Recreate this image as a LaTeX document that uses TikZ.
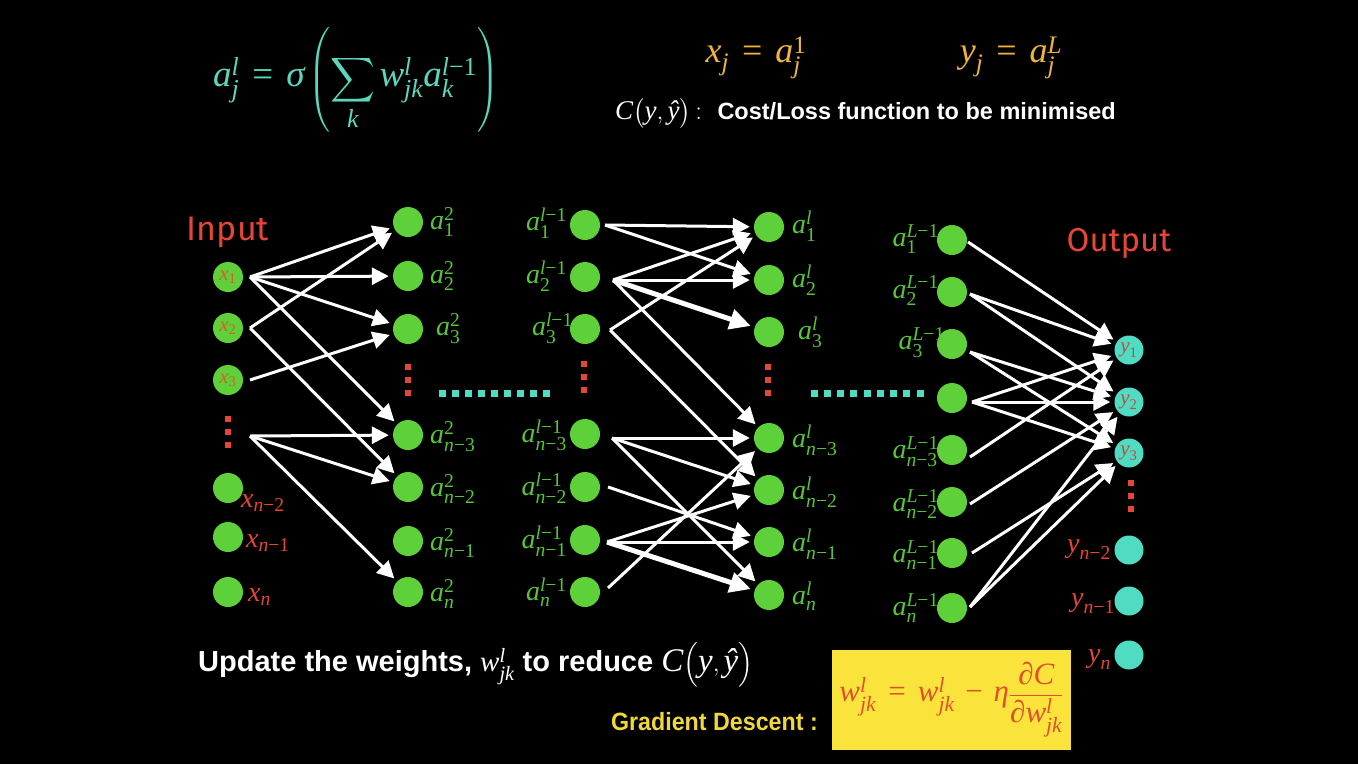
\documentclass[tikz,border=0pt]{standalone}
\usepackage{amsmath}
\usepackage{fontspec}
\newfontfamily\hv{Liberation Sans}
\newfontfamily\hvc{Liberation Sans}[FakeStretch=0.93]
\newfontfamily\hand{Fira Sans}
\newfontfamily\ser{Liberation Serif}
\newcommand\tv[1]{\text{\ser\itshape #1}}
\newcommand\tu[1]{\text{\ser #1}}
\newcommand\teq{\mathrel{\tu{\,=\,}}}
\newcommand\bigsum{\mathop{\vcenter{\hbox{\scalebox{1.25}{$\displaystyle\sum$}}}}\limits}
\usetikzlibrary{arrows.meta}
\definecolor{ngreen}{RGB}{94,208,58}
\definecolor{lgreen}{RGB}{88,196,60}
\definecolor{ncyan}{RGB}{80,220,195}
\definecolor{fcyan}{RGB}{90,215,190}
\definecolor{gold}{RGB}{240,180,60}
\definecolor{nred}{RGB}{230,70,55}
\definecolor{ytext}{RGB}{240,215,60}
\definecolor{ybox}{RGB}{250,228,60}
\definecolor{bred}{RGB}{225,80,45}
\definecolor{inlab}{RGB}{215,95,40}
\definecolor{outlab}{RGB}{185,80,60}
\tikzset{
  neuron/.style={circle, fill=ngreen, minimum size=30pt, inner sep=0pt},
  outn/.style={circle, fill=ncyan, minimum size=29pt, inner sep=0pt},
  lbl/.style={text=lgreen, inner sep=1pt, font=\fontsize{28}{32}\selectfont},
  rlbl/.style={text=nred, inner sep=1pt, font=\fontsize{28}{32}\selectfont},
  edge/.style={draw=white, line width=3pt, -{Triangle[length=17pt,width=17pt]}, shorten >=4pt},
  bigedge/.style={edge, line width=5pt, -{Triangle[length=21pt,width=20pt]}},
  rdot/.style={fill=nred},
  cdot/.style={fill=ncyan}
}
\begin{document}
\begin{tikzpicture}[x=1pt,y=-1pt]
\fill[black] (0,0) rectangle (1358,764);
\useasboundingbox (0,0) rectangle (1358,764);

% ---------- top formulas ----------
\node[text=fcyan, font=\fontsize{37}{44}\selectfont] (fa) at (356,80)
  {$\displaystyle \tv{a}_{\tv{j}}^{\tv{l}}\teq\tv{σ}\left(\bigsum_{\tv{k}} \tv{w}_{\tv{jk}}^{\tv{l}}\tv{a}_{\tv{k}}^{\tv{l}\tu{−1}}\right)$};
\node[text=gold, font=\fontsize{36}{40}\selectfont] (fx) at (756,58) {$\tv{x}_{\tv{j}}\teq\tv{a}_{\tv{j}}^{\tu{1}}$};
\node[text=gold, font=\fontsize{36}{40}\selectfont] (fy) at (1011,58) {$\tv{y}_{\tv{j}}\teq\tv{a}_{\tv{j}}^{\tv{L}}$};
\node[text=white, anchor=west, inner sep=0pt] (cost) at (615,113)
  {\fontsize{27}{30}\selectfont$\tv{C}\bigl(\tv{y},\tv{ŷ}\bigr)$\,:\, {\hv\bfseries\fontsize{23.5}{27}\selectfont Cost/Loss function to be minimised}};

% ---------- headings ----------
\node[text=nred, font=\hand\fontsize{34}{38}\selectfont] (tin) at (228,232) {Input};
\node[text=nred, font=\hand\fontsize{33}{38}\selectfont] (tout) at (1119,243) {Output};

% ---------- input layer ----------
\node[neuron] (x1) at (228,277) {\textcolor{inlab}{\fontsize{21}{24}\selectfont$\tv{x}_{\tu{1}}$}};
\node[neuron] (x2) at (228,328) {\textcolor{inlab}{\fontsize{21}{24}\selectfont$\tv{x}_{\tu{2}}$}};
\node[neuron] (x3) at (228,380) {\textcolor{inlab}{\fontsize{21}{24}\selectfont$\tv{x}_{\tu{3}}$}};
\node[neuron] (xa) at (228,488) {};
\node[neuron] (xb) at (228,537) {};
\node[neuron] (xc) at (228,592) {};
\node[rlbl, anchor=west] (lxa) at (240,503) {$\tv{x}_{\tv{n}\tu{−2}}$};
\node[rlbl, anchor=west] (lxb) at (245,543) {$\tv{x}_{\tv{n}\tu{−1}}$};
\node[rlbl, anchor=west] (lxc) at (247,597) {$\tv{x}_{\tv{n}}$};
\foreach \yy in {419,432,445} \fill[rdot] (225,\yy-3) rectangle ++(6,6);

% ---------- layer 2 ----------
\foreach \i/\yy in {1/222,2/276,3/329,4/435,5/487,6/541,7/592}
  \node[neuron] (h\i) at (408,\yy) {};
\node[lbl, anchor=west] at (429,222) {$\tv{a}_{\tu{1}}^{\tu{2}}$};
\node[lbl, anchor=west] at (429,276) {$\tv{a}_{\tu{2}}^{\tu{2}}$};
\node[lbl, anchor=west] at (435,329) {$\tv{a}_{\tu{3}}^{\tu{2}}$};
\node[lbl, anchor=west] at (429,437) {$\tv{a}_{\tv{n}\tu{−3}}^{\tu{2}}$};
\node[lbl, anchor=west] at (429,489) {$\tv{a}_{\tv{n}\tu{−2}}^{\tu{2}}$};
\node[lbl, anchor=west] at (429,543) {$\tv{a}_{\tv{n}\tu{−1}}^{\tu{2}}$};
\node[lbl, anchor=west] at (429,594) {$\tv{a}_{\tv{n}}^{\tu{2}}$};
\foreach \yy in {367,380,393} \fill[rdot] (405,\yy-3) rectangle ++(6,6);
\foreach \k in {0,...,8} \fill[cdot] (442+13.1*\k-3.5,393-3.5) rectangle ++(7,7);

% ---------- layer l-1 ----------
\foreach \i/\yy in {1/225,2/277,3/329,4/434,5/487,6/540,7/592}
  \node[neuron] (p\i) at (585,\yy) {};
\node[lbl, anchor=east] at (568,223) {$\tv{a}_{\tu{1}}^{\tv{l}\tu{−1}}$};
\node[lbl, anchor=east] at (568,276) {$\tv{a}_{\tu{2}}^{\tv{l}\tu{−1}}$};
\node[lbl, anchor=east] at (574,328) {$\tv{a}_{\tu{3}}^{\tv{l}\tu{−1}}$};
\node[lbl, anchor=east] at (568,435) {$\tv{a}_{\tv{n}\tu{−3}}^{\tv{l}\tu{−1}}$};
\node[lbl, anchor=east] at (568,488) {$\tv{a}_{\tv{n}\tu{−2}}^{\tv{l}\tu{−1}}$};
\node[lbl, anchor=east] at (568,541) {$\tv{a}_{\tv{n}\tu{−1}}^{\tv{l}\tu{−1}}$};
\node[lbl, anchor=east] at (568,592) {$\tv{a}_{\tv{n}}^{\tv{l}\tu{−1}}$};
\foreach \yy in {364,377,390} \fill[rdot] (581,\yy-3) rectangle ++(6,6);

% ---------- layer l ----------
\foreach \i/\yy in {1/227,2/280,3/332,4/438,5/490,6/542,7/595}
  \node[neuron] (q\i) at (769,\yy) {};
\node[lbl, anchor=west] at (791,226) {$\tv{a}_{\tu{1}}^{\tv{l}}$};
\node[lbl, anchor=west] at (791,280) {$\tv{a}_{\tu{2}}^{\tv{l}}$};
\node[lbl, anchor=west] at (797,332) {$\tv{a}_{\tu{3}}^{\tv{l}}$};
\node[lbl, anchor=west] at (791,440) {$\tv{a}_{\tv{n}\tu{−3}}^{\tv{l}}$};
\node[lbl, anchor=west] at (791,492) {$\tv{a}_{\tv{n}\tu{−2}}^{\tv{l}}$};
\node[lbl, anchor=west] at (791,544) {$\tv{a}_{\tv{n}\tu{−1}}^{\tv{l}}$};
\node[lbl, anchor=west] at (791,596) {$\tv{a}_{\tv{n}}^{\tv{l}}$};
\foreach \yy in {367,380,393} \fill[rdot] (765,\yy-3) rectangle ++(6,6);
\foreach \k in {0,...,8} \fill[cdot] (814+13.25*\k-3.5,393-3.5) rectangle ++(7,7);

% ---------- layer L-1 ----------
\foreach \i/\yy in {1/240,2/292,3/344,4/398,5/450,6/502,7/553,8/608}
  \node[neuron] (r\i) at (952,\yy) {};
\node[lbl, anchor=east] at (940,239) {$\tv{a}_{\tu{1}}^{\tv{L}\tu{−1}}$};
\node[lbl, anchor=east] at (940,291) {$\tv{a}_{\tu{2}}^{\tv{L}\tu{−1}}$};
\node[lbl, anchor=east] at (946,343) {$\tv{a}_{\tu{3}}^{\tv{L}\tu{−1}}$};
\node[lbl, anchor=east] at (940,452) {$\tv{a}_{\tv{n}\tu{−3}}^{\tv{L}\tu{−1}}$};
\node[lbl, anchor=east] at (940,504) {$\tv{a}_{\tv{n}\tu{−2}}^{\tv{L}\tu{−1}}$};
\node[lbl, anchor=east] at (940,555) {$\tv{a}_{\tv{n}\tu{−1}}^{\tv{L}\tu{−1}}$};
\node[lbl, anchor=east] at (940,608) {$\tv{a}_{\tv{n}}^{\tv{L}\tu{−1}}$};

% ---------- output layer ----------
\node[outn] (o1) at (1129,350) {\textcolor{outlab}{\fontsize{21}{24}\selectfont$\tv{y}_{\tu{1}}$}};
\node[outn] (o2) at (1129,402) {\textcolor{outlab}{\fontsize{21}{24}\selectfont$\tv{y}_{\tu{2}}$}};
\node[outn] (o3) at (1129,453) {\textcolor{outlab}{\fontsize{21}{24}\selectfont$\tv{y}_{\tu{3}}$}};
\node[outn] (o4) at (1129,550) {};
\node[outn] (o5) at (1129,601) {};
\node[outn] (o6) at (1129,655) {};
\node[rlbl, anchor=east] at (1112,550) {$\tv{y}_{\tv{n}\tu{−2}}$};
\node[rlbl, anchor=east] at (1116,604) {$\tv{y}_{\tv{n}\tu{−1}}$};
\node[rlbl, anchor=east] at (1112,660) {$\tv{y}_{\tv{n}}$};
\foreach \yy in {483,496,509} \fill[rdot] (1128,\yy-3) rectangle ++(6,6);

% ---------- start points of connectors ----------
\coordinate (x1s) at (250,277);
\coordinate (x2s) at (250,328);
\coordinate (x3s) at (250,380);
\coordinate (xds) at (250,436);
\coordinate (p1s) at (605,225);
\coordinate (p2s) at (613,280);
\coordinate (p3s) at (610,330);
\coordinate (p4s) at (612,438);
\coordinate (p5s) at (608,487);
\coordinate (p6s) at (607,542);
\coordinate (p7s) at (608,588);
\coordinate (r1s) at (968,242);
\coordinate (r2s) at (970,294);
\coordinate (r3s) at (970,352);
\coordinate (r4s) at (972,402);
\coordinate (r5s) at (970,457);
\coordinate (r6s) at (970,504);
\coordinate (r7s) at (972,553);
\coordinate (r8s) at (970,607);

% ---------- connectors: input -> layer 2 ----------
\draw[edge] (x1s) -- (h1);
\draw[edge] (x1s) -- (h2);
\draw[edge] (x1s) -- (h3);
\draw[edge] (x1s) -- (h4);
\draw[edge] (x2s) -- (h1);
\draw[edge] (x2s) -- (h5);
\draw[edge] (x3s) -- (h3);
\draw[edge] (xds) -- (h4);
\draw[edge] (xds) -- (h5);
\draw[edge] (xds) -- (h7);

% ---------- connectors: layer l-1 -> layer l ----------
\draw[edge] (p1s) -- (q1);
\draw[edge] (p1s) -- (q2);
\draw[edge] (p2s) -- (q1);
\draw[edge] (p2s) -- (q2);
\draw[bigedge] (p2s) -- (q3);
\draw[edge] (p2s) -- (q4);
\draw[edge] (p3s) -- (q1);
\draw[edge] (p3s) -- (q5);
\draw[edge] (p4s) -- (q4);
\draw[edge] (p4s) -- (q5);
\draw[edge] (p4s) -- (q7);
\draw[edge] (p5s) -- (q6);
\draw[edge] (p6s) -- (q5);
\draw[edge] (p6s) -- (q6);
\draw[bigedge] (p6s) -- (q7);
\draw[edge] (p7s) -- (q4);

% ---------- connectors: layer L-1 -> output ----------
\draw[edge] (r1s) -- (o1);
\draw[edge] (r2s) -- (o1);
\draw[edge] (r2s) -- (o2);
\draw[edge] (r3s) -- (o2);
\draw[edge] (r3s) -- (o3);
\draw[edge] (r4s) -- (o1);
\draw[edge] (r4s) -- (o2);
\draw[edge] (r4s) -- (o3);
\draw[edge] (r5s) -- (o1);
\draw[edge] (r6s) -- (o2);
\draw[edge] (r7s) -- (o3);
\draw[edge] (r8s) -- (o2);
\draw[edge] (r8s) -- (o3);

% ---------- bottom ----------
\node[text=white, anchor=west, inner sep=0pt] (upd) at (198,665)
  {{\hv\bfseries\fontsize{29}{33}\selectfont Update the weights, }{\fontsize{29}{33}\selectfont$\tv{w}_{\tv{jk}}^{\tv{l}}$}{\hv\bfseries\fontsize{29}{33}\selectfont\ to reduce }{\fontsize{33}{36}\selectfont$\tv{C}\Bigl(\tv{y},\tv{ŷ}\Bigr)$}};
\node[text=ytext, anchor=east, inner sep=0pt, font=\hvc\bfseries\fontsize{25}{29}\selectfont] (gd) at (818,722) {Gradient Descent :};
\node[fill=ybox, minimum width=239pt, minimum height=100pt, inner sep=0pt] (box) at (951.5,700) {};
\node[text=bred, font=\fontsize{31}{35}\selectfont] (upf) at (box.center)
  {$\tv{w}_{\tv{jk}}^{\tv{l}} \teq \tv{w}_{\tv{jk}}^{\tv{l}} \mathbin{\tu{\,−\,}} \tv{η}\dfrac{\tu{∂}\tv{C}}{\tu{∂}\tv{w}_{\tv{jk}}^{\tv{l}}}$};
\end{tikzpicture}
\end{document}
